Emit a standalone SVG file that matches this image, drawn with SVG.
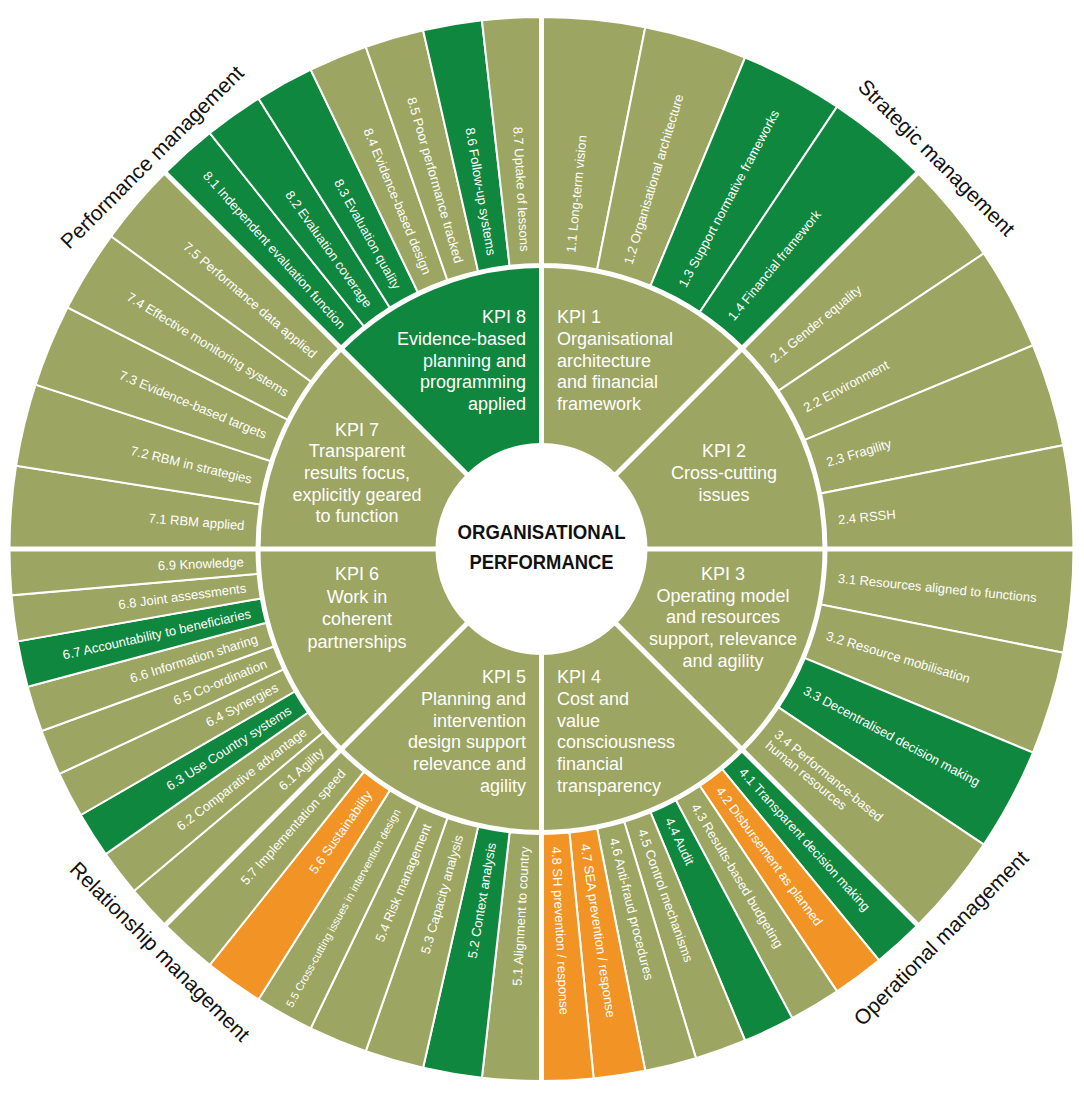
<svg xmlns="http://www.w3.org/2000/svg" xmlns:xlink="http://www.w3.org/1999/xlink" width="1084" height="1093" viewBox="0 0 1084 1093">
<style>
.o{fill:#9ca562}.g{fill:#0f873e}.r{fill:#f29425}
.seg{stroke:#fff;stroke-width:2}
.lbl{font-family:"Liberation Sans",Arial,sans-serif;font-size:13px;fill:#fff}
.st{text-anchor:start}.en{text-anchor:end}.mi{text-anchor:middle}
.kpi{font-family:"Liberation Sans",Arial,sans-serif;font-size:18px;fill:#fff}
.cat{font-family:"Liberation Sans",Arial,sans-serif;font-size:21px;fill:#111;text-anchor:middle}
.ctr{font-family:"Liberation Sans",Arial,sans-serif;font-size:20px;font-weight:bold;fill:#111;text-anchor:middle}
.div{stroke:#fff;stroke-width:5}
</style>
<defs>
<path id="k" d="M0,0 L-107.534,-259.610 A281,281 0 0 1 107.534,-259.610 Z"/>
<path id="s1" d="M-52.145,-529.438 A532,532 0 0 1 52.145,-529.438 L27.935,-283.628 A285,285 0 0 0 -27.935,-283.628 Z"/>
<path id="s2" d="M-26.104,-531.359 A532,532 0 0 1 26.104,-531.359 L13.984,-284.657 A285,285 0 0 0 -13.984,-284.657 Z"/>
<path id="s3" d="M-29.829,-531.163 A532,532 0 0 1 29.829,-531.163 L15.980,-284.552 A285,285 0 0 0 -15.980,-284.552 Z"/>
<path id="s4" d="M-23.205,-531.494 A532,532 0 0 1 23.205,-531.494 L12.431,-284.729 A285,285 0 0 0 -12.431,-284.729 Z"/>
<path id="s5" d="M-41.740,-530.360 A532,532 0 0 1 41.740,-530.360 L22.361,-284.121 A285,285 0 0 0 -22.361,-284.121 Z"/>
</defs>

<!-- KPI sectors -->
<g id="kpi1"><use href="#k" class="o" transform="translate(541.5 549) rotate(22.5)"/>
<text class="kpi st"><tspan x="557" y="323.3">KPI 1</tspan><tspan x="557" y="345">Organisational</tspan><tspan x="557" y="366.7">architecture</tspan><tspan x="557" y="388.3">and financial</tspan><tspan x="557" y="410">framework</tspan></text></g>
<g id="kpi2"><use href="#k" class="o" transform="translate(541.5 549) rotate(67.5)"/>
<text class="kpi mi"><tspan x="724" y="457.3">KPI 2</tspan><tspan x="724" y="479">Cross-cutting</tspan><tspan x="724" y="500.7">issues</tspan></text></g>
<g id="kpi3"><use href="#k" class="o" transform="translate(541.5 549) rotate(112.5)"/>
<text class="kpi mi"><tspan x="723" y="580">KPI 3</tspan><tspan x="723" y="601.7">Operating model</tspan><tspan x="723" y="623.3">and resources</tspan><tspan x="723" y="645">support, relevance</tspan><tspan x="723" y="666.7">and agility</tspan></text></g>
<g id="kpi4"><use href="#k" class="o" transform="translate(541.5 549) rotate(157.5)"/>
<text class="kpi st"><tspan x="557" y="683.3">KPI 4</tspan><tspan x="557" y="705">Cost and</tspan><tspan x="557" y="726.7">value</tspan><tspan x="557" y="748.3">consciousness</tspan><tspan x="557" y="770">financial</tspan><tspan x="557" y="791.7">transparency</tspan></text></g>
<g id="kpi5"><use href="#k" class="o" transform="translate(541.5 549) rotate(202.5)"/>
<text class="kpi en"><tspan x="526" y="683.3">KPI 5</tspan><tspan x="526" y="705">Planning and</tspan><tspan x="526" y="726.7">intervention</tspan><tspan x="526" y="748.3">design support</tspan><tspan x="526" y="770">relevance and</tspan><tspan x="526" y="791.7">agility</tspan></text></g>
<g id="kpi6"><use href="#k" class="o" transform="translate(541.5 549) rotate(247.5)"/>
<text class="kpi mi"><tspan x="357" y="580">KPI 6</tspan><tspan x="357" y="602.5">Work in</tspan><tspan x="357" y="625">coherent</tspan><tspan x="357" y="647.5">partnerships</tspan></text></g>
<g id="kpi7"><use href="#k" class="o" transform="translate(541.5 549) rotate(292.5)"/>
<text class="kpi mi"><tspan x="357" y="435.7">KPI 7</tspan><tspan x="357" y="457.3">Transparent</tspan><tspan x="357" y="479">results focus,</tspan><tspan x="357" y="500.7">explicitly geared</tspan><tspan x="357" y="522.3">to function</tspan></text></g>
<g id="kpi8"><use href="#k" class="g" transform="translate(541.5 549) rotate(337.5)"/>
<text class="kpi en"><tspan x="526" y="323.3">KPI 8</tspan><tspan x="526" y="345">Evidence-based</tspan><tspan x="526" y="366.7">planning and</tspan><tspan x="526" y="388.3">programming</tspan><tspan x="526" y="410">applied</tspan></text></g>

<!-- KPI 1 items -->
<g id="i1-1"><use href="#s1" class="o seg" transform="translate(541.5 549) rotate(5.625)"/><text class="lbl st" transform="translate(541.5 549) rotate(-84.375)" x="298" y="4.5">1.1 Long-term vision</text></g>
<g id="i1-2"><use href="#s1" class="o seg" transform="translate(541.5 549) rotate(16.875)"/><text class="lbl st" transform="translate(541.5 549) rotate(-73.125)" x="298" y="4.5">1.2 Organisational architecture</text></g>
<g id="i1-3"><use href="#s1" class="g seg" transform="translate(541.5 549) rotate(28.125)"/><text class="lbl st" transform="translate(541.5 549) rotate(-61.875)" x="298" y="4.5">1.3 Support normative frameworks</text></g>
<g id="i1-4"><use href="#s1" class="g seg" transform="translate(541.5 549) rotate(39.375)"/><text class="lbl st" transform="translate(541.5 549) rotate(-50.625)" x="298" y="4.5">1.4 Financial framework</text></g>
<!-- KPI 2 items -->
<g id="i2-1"><use href="#s1" class="o seg" transform="translate(541.5 549) rotate(50.625)"/><text class="lbl st" transform="translate(541.5 549) rotate(-39.375)" x="298" y="4.5">2.1 Gender equality</text></g>
<g id="i2-2"><use href="#s1" class="o seg" transform="translate(541.5 549) rotate(61.875)"/><text class="lbl st" transform="translate(541.5 549) rotate(-28.125)" x="298" y="4.5">2.2 Environment</text></g>
<g id="i2-3"><use href="#s1" class="o seg" transform="translate(541.5 549) rotate(73.125)"/><text class="lbl st" transform="translate(541.5 549) rotate(-16.875)" x="298" y="4.5">2.3 Fragility</text></g>
<g id="i2-4"><use href="#s1" class="o seg" transform="translate(541.5 549) rotate(84.375)"/><text class="lbl st" transform="translate(541.5 549) rotate(-5.625)" x="298" y="4.5">2.4 RSSH</text></g>
<!-- KPI 3 items -->
<g id="i3-1"><use href="#s1" class="o seg" transform="translate(541.5 549) rotate(95.625)"/><text class="lbl st" transform="translate(541.5 549) rotate(5.625)" x="298" y="4.5">3.1 Resources aligned to functions</text></g>
<g id="i3-2"><use href="#s1" class="o seg" transform="translate(541.5 549) rotate(106.875)"/><text class="lbl st" transform="translate(541.5 549) rotate(16.875)" x="298" y="4.5">3.2 Resource mobilisation</text></g>
<g id="i3-3"><use href="#s1" class="g seg" transform="translate(541.5 549) rotate(118.125)"/><text class="lbl st" transform="translate(541.5 549) rotate(28.125)" x="298" y="4.5">3.3 Decentralised decision making</text></g>
<g id="i3-4"><use href="#s1" class="o seg" transform="translate(541.5 549) rotate(129.375)"/><text class="lbl st" transform="translate(541.5 549) rotate(39.375)"><tspan x="298" y="-2.5">3.4 Performance-based</tspan><tspan x="298" y="11.5">human resources</tspan></text></g>
<!-- KPI 4 items -->
<g id="i4-1"><use href="#s2" class="g seg" transform="translate(541.5 549) rotate(137.8125)"/><text class="lbl st" transform="translate(541.5 549) rotate(47.8125)" x="298" y="4.5">4.1 Transparent decision making</text></g>
<g id="i4-2"><use href="#s2" class="r seg" transform="translate(541.5 549) rotate(143.4375)"/><text class="lbl st" transform="translate(541.5 549) rotate(53.4375)" x="298" y="4.5">4.2 Disbursement as planned</text></g>
<g id="i4-3"><use href="#s2" class="o seg" transform="translate(541.5 549) rotate(149.0625)"/><text class="lbl st" transform="translate(541.5 549) rotate(59.0625)" x="298" y="4.5">4.3 Results-based budgeting</text></g>
<g id="i4-4"><use href="#s2" class="g seg" transform="translate(541.5 549) rotate(154.6875)"/><text class="lbl st" transform="translate(541.5 549) rotate(64.6875)" x="298" y="4.5">4.4 Audit</text></g>
<g id="i4-5"><use href="#s2" class="o seg" transform="translate(541.5 549) rotate(160.3125)"/><text class="lbl st" transform="translate(541.5 549) rotate(70.3125)" x="298" y="4.5">4.5 Control mechanisms</text></g>
<g id="i4-6"><use href="#s2" class="o seg" transform="translate(541.5 549) rotate(165.9375)"/><text class="lbl st" transform="translate(541.5 549) rotate(75.9375)" x="298" y="4.5">4.6 Anti-fraud procedures</text></g>
<g id="i4-7"><use href="#s2" class="r seg" transform="translate(541.5 549) rotate(171.5625)"/><text class="lbl st" transform="translate(541.5 549) rotate(81.5625)" x="298" y="4.5">4.7 SEA prevention / response</text></g>
<g id="i4-8"><use href="#s2" class="r seg" transform="translate(541.5 549) rotate(177.1875)"/><text class="lbl st" transform="translate(541.5 549) rotate(87.1875)" x="298" y="4.5">4.8 SH prevention / response</text></g>
<!-- KPI 5 items -->
<g id="i5-1"><use href="#s3" class="o seg" transform="translate(541.5 549) rotate(183.2143)"/><text class="lbl en" transform="translate(541.5 549) rotate(-86.7857)" x="-298" y="4.5">5.1 Alignment to country</text></g>
<g id="i5-2"><use href="#s3" class="g seg" transform="translate(541.5 549) rotate(189.6429)"/><text class="lbl en" transform="translate(541.5 549) rotate(-80.3571)" x="-298" y="4.5">5.2 Context analysis</text></g>
<g id="i5-3"><use href="#s3" class="o seg" transform="translate(541.5 549) rotate(196.0714)"/><text class="lbl en" transform="translate(541.5 549) rotate(-73.9286)" x="-298" y="4.5">5.3 Capacity analysis</text></g>
<g id="i5-4"><use href="#s3" class="o seg" transform="translate(541.5 549) rotate(202.5)"/><text class="lbl en" transform="translate(541.5 549) rotate(-67.5)" x="-298" y="4.5">5.4 Risk management</text></g>
<g id="i5-5"><use href="#s3" class="o seg" transform="translate(541.5 549) rotate(208.9286)"/><text class="lbl en" style="font-size:11px" transform="translate(541.5 549) rotate(-61.0714)" x="-298" y="4">5.5 Cross-cutting issues in intervention design</text></g>
<g id="i5-6"><use href="#s3" class="r seg" transform="translate(541.5 549) rotate(215.3571)"/><text class="lbl en" transform="translate(541.5 549) rotate(-54.6429)" x="-298" y="4.5">5.6 Sustainability</text></g>
<g id="i5-7"><use href="#s3" class="o seg" transform="translate(541.5 549) rotate(221.7857)"/><text class="lbl en" transform="translate(541.5 549) rotate(-48.2143)" x="-298" y="4.5">5.7 Implementation speed</text></g>
<!-- KPI 6 items -->
<g id="i6-1"><use href="#s4" class="o seg" transform="translate(541.5 549) rotate(227.5)"/><text class="lbl en" transform="translate(541.5 549) rotate(-42.5)" x="-298" y="4.5">6.1 Agility</text></g>
<g id="i6-2"><use href="#s4" class="o seg" transform="translate(541.5 549) rotate(232.5)"/><text class="lbl en" transform="translate(541.5 549) rotate(-37.5)" x="-298" y="4.5">6.2 Comparative advantage</text></g>
<g id="i6-3"><use href="#s4" class="g seg" transform="translate(541.5 549) rotate(237.5)"/><text class="lbl en" transform="translate(541.5 549) rotate(-32.5)" x="-298" y="4.5">6.3 Use Country systems</text></g>
<g id="i6-4"><use href="#s4" class="o seg" transform="translate(541.5 549) rotate(242.5)"/><text class="lbl en" transform="translate(541.5 549) rotate(-27.5)" x="-298" y="4.5">6.4 Synergies</text></g>
<g id="i6-5"><use href="#s4" class="o seg" transform="translate(541.5 549) rotate(247.5)"/><text class="lbl en" transform="translate(541.5 549) rotate(-22.5)" x="-298" y="4.5">6.5 Co-ordination</text></g>
<g id="i6-6"><use href="#s4" class="o seg" transform="translate(541.5 549) rotate(252.5)"/><text class="lbl en" transform="translate(541.5 549) rotate(-17.5)" x="-298" y="4.5">6.6 Information sharing</text></g>
<g id="i6-7"><use href="#s4" class="g seg" transform="translate(541.5 549) rotate(257.5)"/><text class="lbl en" transform="translate(541.5 549) rotate(-12.5)" x="-298" y="4.5">6.7 Accountability to beneficiaries</text></g>
<g id="i6-8"><use href="#s4" class="o seg" transform="translate(541.5 549) rotate(262.5)"/><text class="lbl en" transform="translate(541.5 549) rotate(-7.5)" x="-298" y="4.5">6.8 Joint assessments</text></g>
<g id="i6-9"><use href="#s4" class="o seg" transform="translate(541.5 549) rotate(267.5)"/><text class="lbl en" transform="translate(541.5 549) rotate(-2.5)" x="-298" y="4.5">6.9 Knowledge</text></g>
<!-- KPI 7 items -->
<g id="i7-1"><use href="#s5" class="o seg" transform="translate(541.5 549) rotate(274.5)"/><text class="lbl en" transform="translate(541.5 549) rotate(4.5)" x="-298" y="4.5">7.1 RBM applied</text></g>
<g id="i7-2"><use href="#s5" class="o seg" transform="translate(541.5 549) rotate(283.5)"/><text class="lbl en" transform="translate(541.5 549) rotate(13.5)" x="-298" y="4.5">7.2 RBM in strategies</text></g>
<g id="i7-3"><use href="#s5" class="o seg" transform="translate(541.5 549) rotate(292.5)"/><text class="lbl en" transform="translate(541.5 549) rotate(22.5)" x="-298" y="4.5">7.3 Evidence-based targets</text></g>
<g id="i7-4"><use href="#s5" class="o seg" transform="translate(541.5 549) rotate(301.5)"/><text class="lbl en" transform="translate(541.5 549) rotate(31.5)" x="-298" y="4.5">7.4 Effective monitoring systems</text></g>
<g id="i7-5"><use href="#s5" class="o seg" transform="translate(541.5 549) rotate(310.5)"/><text class="lbl en" transform="translate(541.5 549) rotate(40.5)" x="-298" y="4.5">7.5 Performance data applied</text></g>
<!-- KPI 8 items -->
<g id="i8-1"><use href="#s3" class="g seg" transform="translate(541.5 549) rotate(318.2143)"/><text class="lbl en" transform="translate(541.5 549) rotate(48.2143)" x="-298" y="4.5">8.1 Independent evaluation function</text></g>
<g id="i8-2"><use href="#s3" class="g seg" transform="translate(541.5 549) rotate(324.6429)"/><text class="lbl en" transform="translate(541.5 549) rotate(54.6429)" x="-298" y="4.5">8.2 Evaluation coverage</text></g>
<g id="i8-3"><use href="#s3" class="g seg" transform="translate(541.5 549) rotate(331.0714)"/><text class="lbl en" transform="translate(541.5 549) rotate(61.0714)" x="-298" y="4.5">8.3 Evaluation quality</text></g>
<g id="i8-4"><use href="#s3" class="o seg" transform="translate(541.5 549) rotate(337.5)"/><text class="lbl en" transform="translate(541.5 549) rotate(67.5)" x="-298" y="4.5">8.4 Evidence-based design</text></g>
<g id="i8-5"><use href="#s3" class="o seg" transform="translate(541.5 549) rotate(343.9286)"/><text class="lbl en" transform="translate(541.5 549) rotate(73.9286)" x="-298" y="4.5">8.5 Poor performance tracked</text></g>
<g id="i8-6"><use href="#s3" class="g seg" transform="translate(541.5 549) rotate(350.3571)"/><text class="lbl en" transform="translate(541.5 549) rotate(80.3571)" x="-298" y="4.5">8.6 Follow-up systems</text></g>
<g id="i8-7"><use href="#s3" class="o seg" transform="translate(541.5 549) rotate(356.7857)"/><text class="lbl en" transform="translate(541.5 549) rotate(86.7857)" x="-298" y="4.5">8.7 Uptake of lessons</text></g>

<!-- dividers between KPI sectors -->
<g id="connectors" transform="translate(541.5 549)">
<line class="div" x1="0" y1="-537" x2="0" y2="537"/>
<line class="div" x1="-537" y1="0" x2="537" y2="0"/>
<line class="div" x1="-380" y1="-380" x2="380" y2="380"/>
<line class="div" x1="-380" y1="380" x2="380" y2="-380"/>
</g>

<g id="centre">
<circle cx="541.5" cy="549" r="106" fill="#fff"/>
<text class="ctr" x="541.5" y="539.3" textLength="168" lengthAdjust="spacingAndGlyphs">ORGANISATIONAL</text>
<text class="ctr" x="541.5" y="569.3" textLength="144" lengthAdjust="spacingAndGlyphs">PERFORMANCE</text>
</g>

<g id="categories">
<text class="cat" transform="translate(152 157) rotate(-45)" y="7.3">Performance management</text>
<text class="cat" transform="translate(936.5 157.5) rotate(45)" y="7.3">Strategic management</text>
<text class="cat" transform="translate(941 938) rotate(-45)" y="7.3">Operational management</text>
<text class="cat" transform="translate(160 951.5) rotate(45)" y="7.3">Relationship management</text>
</g>
</svg>
